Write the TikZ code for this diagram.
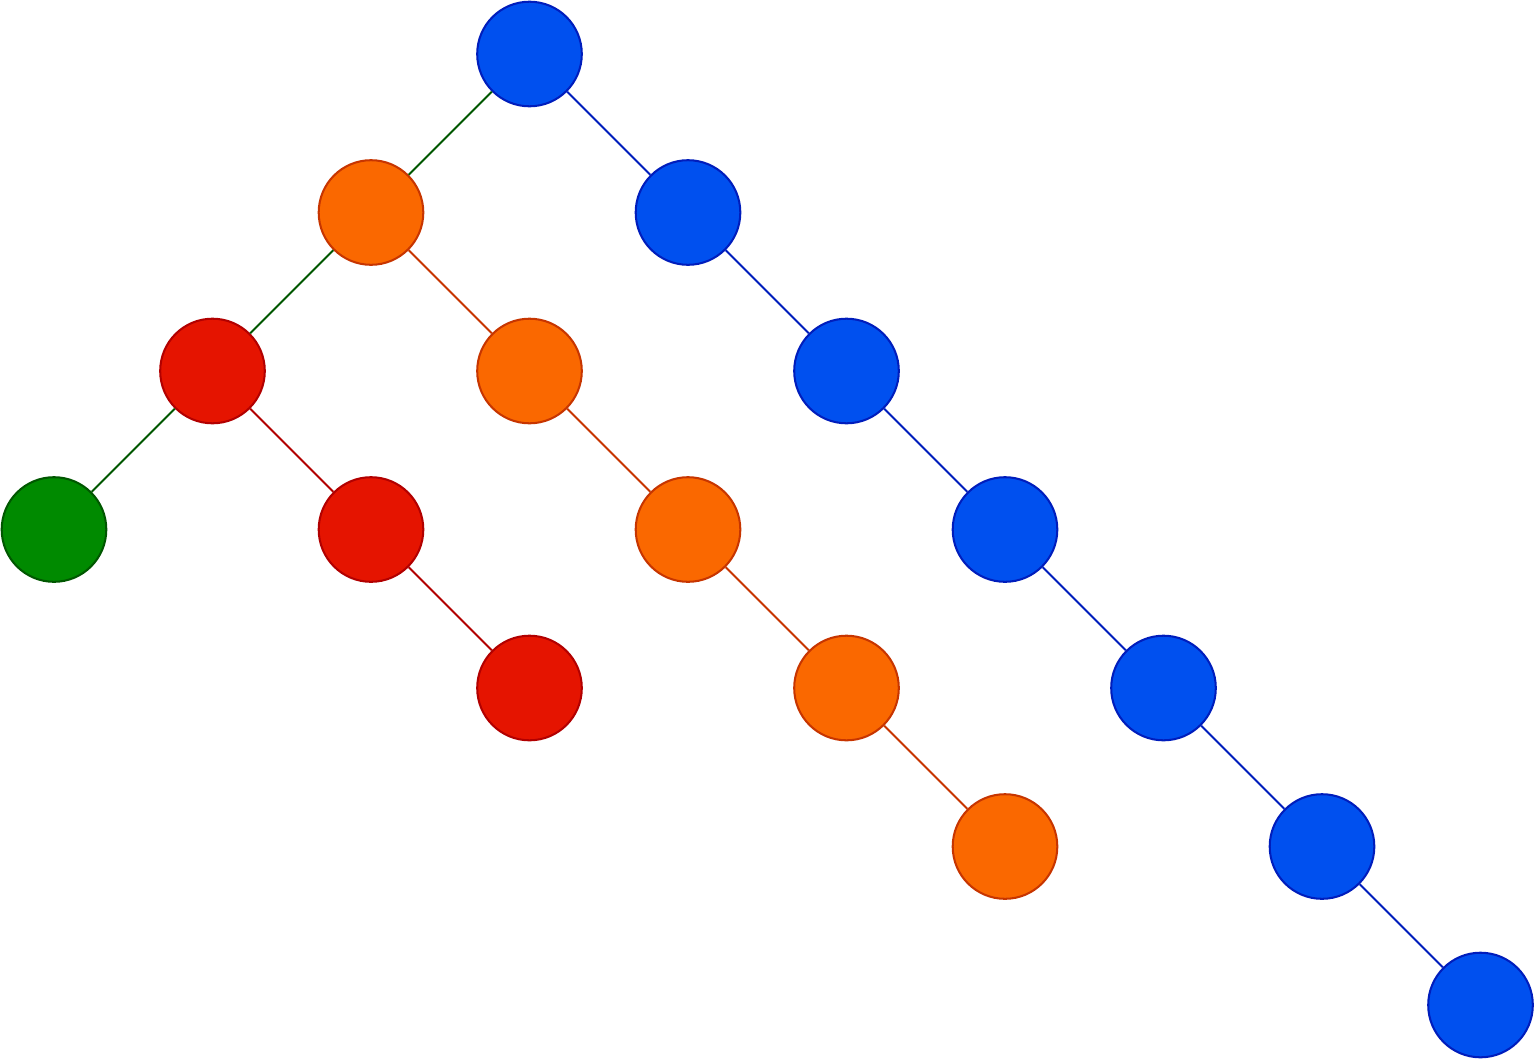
\documentclass[tikz,border=0pt]{standalone}
\usepackage{tikz}

\definecolor{bluefill}{HTML}{0050EF}
\definecolor{blueline}{HTML}{001DBC}
\definecolor{orangefill}{HTML}{FA6800}
\definecolor{orangeline}{HTML}{C73500}
\definecolor{redfill}{HTML}{E51400}
\definecolor{redline}{HTML}{B20000}
\definecolor{greenfill}{HTML}{008A00}
\definecolor{greenline}{HTML}{005700}

\tikzset{
  treenode/.style={circle, minimum size=0.99cm, inner sep=0pt, line width=0.55pt},
  bluenode/.style={treenode, fill=bluefill, draw=blueline},
  orangenode/.style={treenode, fill=orangefill, draw=orangeline},
  rednode/.style={treenode, fill=redfill, draw=redline},
  greennode/.style={treenode, fill=greenfill, draw=greenline},
  edge/.style={line width=0.55pt}
}

\begin{document}
\begin{tikzpicture}[x=1.5cm, y=-1.5cm]

  % Page frame
  \useasboundingbox (-0.3407,-0.3407) rectangle (9.350,6.347);

  % Root and first level
  \node[bluenode] (root) at (3,0) {};
  \node[orangenode] (o1) at (2,1) {};
  \node[bluenode] (b1) at (4,1) {};

  % Second level
  \node[rednode] (r1) at (1,2) {};
  \node[orangenode] (o2) at (3,2) {};
  \node[bluenode] (b2) at (5,2) {};

  % Third level
  \node[greennode] (g1) at (0,3) {};
  \node[rednode] (r2) at (2,3) {};
  \node[orangenode] (o3) at (4,3) {};
  \node[bluenode] (b3) at (6,3) {};

  % Lower levels
  \node[rednode] (r3) at (3,4) {};
  \node[orangenode] (o4) at (5,4) {};
  \node[bluenode] (b4) at (7,4) {};
  \node[orangenode] (o5) at (6,5) {};
  \node[bluenode] (b5) at (8,5) {};
  \node[bluenode] (b6) at (9,6) {};

  % Green path
  \draw[edge, draw=greenline] (root) -- (o1);
  \draw[edge, draw=greenline] (o1) -- (r1);
  \draw[edge, draw=greenline] (r1) -- (g1);

  % Red path
  \draw[edge, draw=redline] (r1) -- (r2);
  \draw[edge, draw=redline] (r2) -- (r3);

  % Orange path
  \draw[edge, draw=orangeline] (o1) -- (o2);
  \draw[edge, draw=orangeline] (o2) -- (o3);
  \draw[edge, draw=orangeline] (o3) -- (o4);
  \draw[edge, draw=orangeline] (o4) -- (o5);

  % Blue path
  \draw[edge, draw=blueline] (root) -- (b1);
  \draw[edge, draw=blueline] (b1) -- (b2);
  \draw[edge, draw=blueline] (b2) -- (b3);
  \draw[edge, draw=blueline] (b3) -- (b4);
  \draw[edge, draw=blueline] (b4) -- (b5);
  \draw[edge, draw=blueline] (b5) -- (b6);

\end{tikzpicture}
\end{document}
